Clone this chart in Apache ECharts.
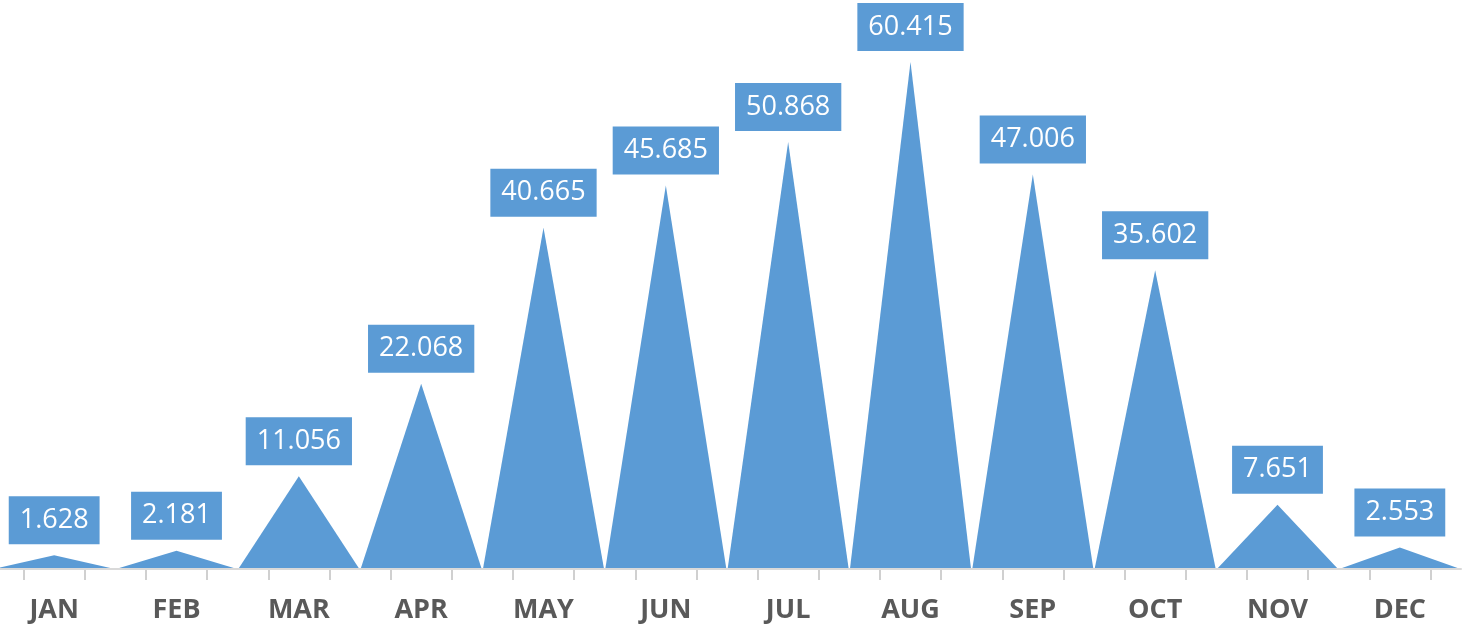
<!DOCTYPE html>
<html>
<head>
<meta charset="utf-8">
<script src="https://cdn.jsdelivr.net/npm/echarts@6/dist/echarts.min.js"></script>
<style>
    html,body{margin:0;padding:0;background:#fff;}
    #chart{width:1463px;height:639px;}
</style>
</head>
<body>
<div id="chart"></div>
<script>
    // 月份与数值
    var months = ['JAN','FEB','MAR','APR','MAY','JUN','JUL','AUG','SEP','OCT','NOV','DEC'];
    var values = [1.628, 2.181, 11.056, 22.068, 40.665, 45.685, 50.868, 60.415, 47.006, 35.602, 7.651, 2.553];
    // 每个月两个刻度（四分之一处和四分之三处）
    var tickSlots = [];
    months.forEach(function(m){
        tickSlots.push(m + '-a', m + '-b');
    });

    var myChart = echarts.init(document.getElementById('chart'));
    var option = {
        animation: false,
        grid: {
            left: -7,
            right: 2,
            top: 0,
            bottom: 70,
            outerBoundsMode: 'none'
        },
        xAxis: [
            {
                type: 'category',
                data: months,
                axisLine: {
                    lineStyle: { color: '#d9d9d9', width: 2 }
                },
                axisTick: { show: false },
                axisLabel: {
                    color: '#595959',
                    fontSize: 27,
                    fontWeight: 'bold',
                    fontFamily: 'Open Sans',
                    margin: 28
                },
                z: 3
            },
            {
                type: 'category',
                data: tickSlots,
                position: 'bottom',
                axisLine: { show: false },
                axisTick: {
                    show: true,
                    alignWithLabel: true,
                    interval: 0,
                    length: 11,
                    lineStyle: { color: '#d0d0d0', width: 2 }
                },
                axisLabel: { show: false, interval: 0 }
            }
        ],
        yAxis: {
            type: 'value',
            min: 0,
            max: 67.8,
            show: false,
            splitLine: { show: false }
        },
        series: [{
            type: 'pictorialBar',
            data: values,
            symbol: 'triangle',
            symbolSize: ['100%', '100%'],
            barCategoryGap: '1%',
            itemStyle: { color: '#5b9bd5' },
            label: {
                show: true,
                position: 'top',
                distance: 11,
                color: '#fff',
                fontSize: 27,
                fontFamily: 'Open Sans',
                lineHeight: 32,
                backgroundColor: '#5b9bd5',
                padding: [8, 11],
                formatter: function(p){
                    return p.value.toFixed(3);
                }
            }
        }]
    };
    myChart.setOption(option);
    window.onresize = function(){
        myChart.resize();
    }
</script>
</body>
</html>
